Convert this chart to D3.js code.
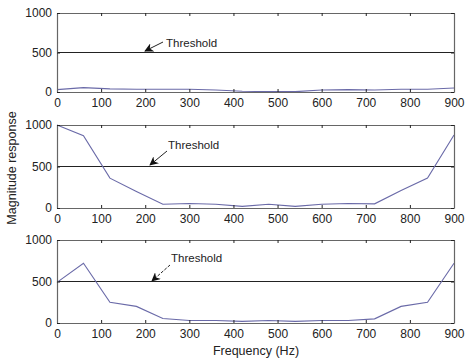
<!DOCTYPE html>
<html><head><meta charset="utf-8">
<script src="https://cdn.jsdelivr.net/npm/d3@7"></script>
<style>body{margin:0;background:#fff}svg{display:block}text{font-family:"Liberation Sans",Arial,sans-serif}</style>
</head><body><svg id="c" width="474" height="360"></svg>
<script>
const freqs = [0,60,120,180,240,300,360,420,480,540,600,660,720,780,840,900];
const panel1 = [30,55,40,35,35,35,25,10,5,5,25,30,25,35,35,50];
const panel2 = [1000,870,360,200,45,55,45,20,45,20,45,55,50,210,360,880];
const panel3 = [490,720,250,200,55,30,30,20,30,20,30,30,50,200,250,720];
const xTicks = [0,100,200,300,400,500,600,700,800,900];
const yTicks = [0,500,1000];
const threshold = 500;
const annText = "Threshold";
const xLabel = "Frequency (Hz)";
const yLabel = "Magnitude response";

const panels = [
  {data: panel1, top: 13, bottom: 92, text:[166,47], tail:[163,42], tip:[145,51]},
  {data: panel2, top: 125, bottom: 208, text:[168,149], tail:[167,151], tip:[150,165]},
  {data: panel3, top: 240, bottom: 323, text:[171,262], tail:[170,265], tip:[152,281]}
];
const left = 57, right = 454;
const svg = d3.select("#c");
const x = d3.scaleLinear().domain([0,900]).range([left,right]);
svg.append("defs").append("marker").attr("id","ah").attr("viewBox","0 0 10 10")
  .attr("refX",9).attr("refY",5).attr("markerWidth",9).attr("markerHeight",9)
  .attr("markerUnits","userSpaceOnUse").attr("orient","auto")
  .append("path").attr("d","M0,0 L10,5 L0,10 L3,5 Z").attr("fill","#111");

panels.forEach((p,i)=>{
  const y = d3.scaleLinear().domain([0,1000]).range([p.bottom,p.top]);
  const g = svg.append("g");
  g.append("line").attr("x1",left).attr("x2",right).attr("y1",y(threshold)).attr("y2",y(threshold))
   .attr("stroke","#222").attr("stroke-width",1.2);
  g.append("path").datum(freqs.map((f,j)=>[f,p.data[j]]))
   .attr("d", d3.line().x(d=>x(d[0])).y(d=>y(d[1])))
   .attr("fill","none").attr("stroke","#6a6aa8").attr("stroke-width",1.1);
  const ax = d3.axisBottom(x).tickValues(xTicks).tickSizeInner(-3).tickSizeOuter(0).tickPadding(6).tickFormat(d3.format("d"));
  const axTop = d3.axisTop(x).tickValues(xTicks).tickSizeInner(-3).tickSizeOuter(0).tickFormat("");
  const ay = d3.axisLeft(y).tickValues(yTicks).tickSizeInner(-3).tickSizeOuter(0).tickPadding(5).tickFormat(d3.format("d"));
  const ayR = d3.axisRight(y).tickValues(yTicks).tickSizeInner(-3).tickSizeOuter(0).tickFormat("");
  [[ax,`translate(0,${p.bottom})`],[axTop,`translate(0,${p.top})`],[ay,`translate(${left},0)`],[ayR,`translate(${right},0)`]]
   .forEach(([a,t])=>{
     const gg = g.append("g").attr("transform",t).call(a);
     gg.select(".domain").attr("stroke","#666").attr("stroke-width",1.2);
     gg.selectAll(".tick line").attr("stroke","#222");
     gg.selectAll("text").attr("font-size",12).attr("fill","#222").attr("font-family","Liberation Sans, Arial, sans-serif");
   });
  g.append("line").attr("x1",p.tail[0]).attr("y1",p.tail[1]).attr("x2",p.tip[0]).attr("y2",p.tip[1])
   .attr("stroke","#222").attr("stroke-width",1).attr("stroke-dasharray", i===2?"3,1.5":null).attr("marker-end","url(#ah)");
  g.append("text").attr("x",p.text[0]).attr("y",p.text[1]).text(annText)
   .attr("font-size",11.5).attr("fill","#222");
});
svg.append("text").attr("x",256).attr("y",355).attr("text-anchor","middle").attr("font-size",12.5).attr("fill","#222").text(xLabel);
svg.append("text").attr("transform","translate(16,168) rotate(-90)").attr("text-anchor","middle").attr("font-size",12.5).attr("fill","#222").text(yLabel);
</script></body></html>
